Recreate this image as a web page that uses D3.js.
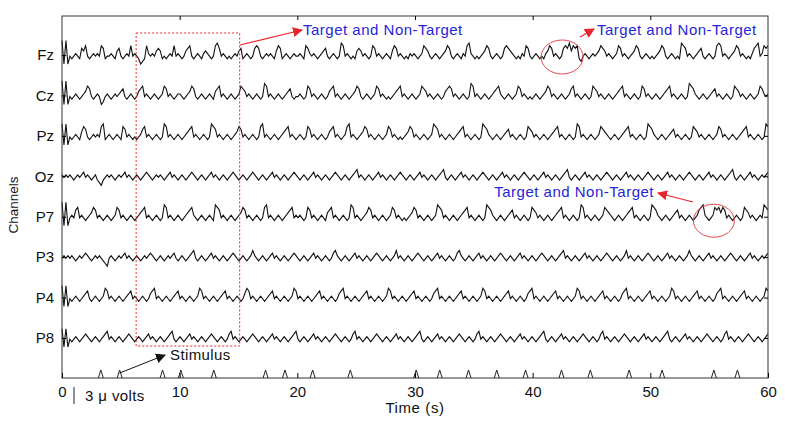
<!DOCTYPE html>
<html>
<head>
<meta charset="utf-8">
<script src="https://cdn.jsdelivr.net/npm/d3@7/dist/d3.min.js"></script>
<style>
	body { margin: 0; background: #fff; }
	text { font-family: "Liberation Sans", Arial, sans-serif; }
</style>
</head>
<body>
<div id="eeg-chart"></div>
<script>
// channel names, top to bottom
var channels = ["Fz", "Cz", "Pz", "Oz", "P7", "P3", "P4", "P8"];

// traces, one digit per 1/6 s (0 = lowest, 9 = highest)
var fz = ["909032343265732343437623343256323437343201274343565232343734",
	"323567323432454323786343232343562343236763234343257623432343",
	"343276434323456323432387343232565343237634323432576343232434",
	"323476532343234576323432437843232345763234323676543232437632",
	"343232457634323676857672134323434576534323476343234576323432",
	"323457632343232876343234563234323787343234576343232467834767"].join("");
var cz = ["909032343234576323430134323434563234323567343234323476343234",
	"432345763234323432567343234323476534323432387343234323456323",
	"343237634323432356734323432345763234323476343232345673432343",
	"234765343234323567634323432387343234323456743234323476343232",
	"343234576343234323467343234323765343234323456734323432376343",
	"234323456734323432387643234323456343234323765343234323476434"].join("");
var pz = ["808032343257632343437823432343276343232346734323432387343234",
	"323456734323432387634323432345763432343237834323432345673432",
	"343237634323432356734323478343234576343234323476343232345763",
	"432343234876343234323456734323432387643234323456343234323765",
	"343234323456734323432387343234323476543234323456734323432387",
	"643234323456343234323765343234323476343234323456734323432387"].join("");
var oz = ["434343234345343234210234343234345343234323454323434323453432",
	"343234543234323453432343234543234323454323432345343234323454",
	"323432345343234323454323432345634323432345343234323454323432",
	"345343234323456323432345343234323454323432345343234323454323",
	"432345343234323456323432345343234323454323432345343234323454",
	"323432345343234323454323432345343234323456323432345343234345"].join("");
var p7 = ["909034367343234576343234323476343234323456734323432387343234",
	"323456743234323432876343234323457634323432378343234323456734",
	"343237634323432567343234323873432345763432343234763432323457",
	"634323432348763432343234567343234323876432343234563432343237",
	"653432343234567343234323873432343234765432343234567343234323",
	"876432343234563432343234678432347675763432343237653432343876"].join("");
var p3 = ["343434323434543234343210343234345343234323434543234323434532",
	"343234563234323453432343234543234323464323432345343234323454",
	"323432345343234323564323432345343234323454323432346343234323",
	"454323432345343234323564323432345343234323454323432345343234",
	"323454323432345634323432345343234323454323432346343234323454",
	"323432345343234323464323432345343234323454323432345343234345"].join("");
var p4 = ["808032343234563234323476343234323456343234323567343234323456",
	"343234323476343234323456343234323576343234323456343234323476",
	"343234323456343234323567343234323456343234323476343234323456",
	"343234323567343234323456343234323476343234323456343234323567",
	"343234323456343234323476343234323456343234323567343234323456",
	"343234323476343234323456343234323567343234323456343234323476"].join("");
var p8 = ["707032343234543234323456343234323454323432345343234323456323",
	"432345343234323454323432356343234323454323432345343234323456",
	"323432345343234323454323432356343234323454323432345343234323",
	"456323432345343234323454323432356343234323454323432345343234",
	"323456323432345343234323454323432356343234323454323432345343",
	"234323456323432345343234323454323432356343234323454323432345"].join("");
var traces = [fz, cz, pz, oz, p7, p3, p4, p8];

// stimulus onsets (s)
var stimulus = [3.3, 4.9, 8.55, 10.1, 12.9, 17.3, 18.95, 21.3, 24.5, 30.1, 32.1,
	34.55, 36.95, 39.4, 42.45, 44.9, 48.2, 51.0, 55.4, 57.4];

var timeTicks = [0, 10, 20, 30, 40, 50, 60];
var annotationText = "Target and Non-Target";

// set margins and draw canvas
var margin = {left: 62, right: 17, top: 16, bottom: 47};
var width = 785 - margin.left - margin.right,
	height = 425 - margin.top - margin.bottom;

var svg = d3.select("#eeg-chart").append("svg")
		.attr("width", width + margin.left + margin.right)
		.attr("height", height + margin.top + margin.bottom);

var canvas = svg.append("g")
		.attr("transform", "translate(" + margin.left + ", " + margin.top + ")");

// scales
var x = d3.scaleLinear().domain([0, 60]).range([0, width]);
var y = d3.scalePoint().domain(channels).range([39, 322]);
var volt = d3.scaleLinear().domain([0, 9]).range([9, -14.5]);

// traces
traces.forEach(function(str, c) {
	var vals = str.split("").map(Number);
	var n = vals.length;
	var line = d3.line()
		.x(function(d, i) { return x(i * 60 / (n - 1)); })
		.y(function(d) { return y(channels[c]) + volt(d); });
	canvas.append("path")
		.datum(vals)
		.attr("d", line)
		.attr("fill", "none")
		.attr("stroke", "#111")
		.attr("stroke-width", 1.1);
});

// frame
canvas.append("rect")
	.attr("width", width)
	.attr("height", height)
	.attr("fill", "none")
	.attr("stroke", "#333")
	.attr("stroke-width", 1);

// axes
var xAxis = canvas.append("g")
	.attr("transform", "translate(0," + height + ")")
	.call(d3.axisBottom(x).tickValues(timeTicks).tickSizeInner(-5).tickSizeOuter(0).tickPadding(8));
xAxis.select(".domain").remove();
xAxis.selectAll("text").attr("font-size", "15px").attr("fill", "#111")
	.attr("font-family", "Liberation Sans, Arial, sans-serif");

var topAxis = canvas.append("g")
	.call(d3.axisTop(x).tickValues([10, 20, 30, 40, 50]).tickSize(-4).tickFormat(""));
topAxis.select(".domain").remove();

var yAxis = canvas.append("g")
	.call(d3.axisLeft(y).tickSizeInner(-4).tickSizeOuter(0).tickPadding(8));
yAxis.select(".domain").remove();
yAxis.selectAll("text").attr("font-size", "15px").attr("fill", "#111")
	.attr("font-family", "Liberation Sans, Arial, sans-serif");

var rAxis = canvas.append("g")
	.attr("transform", "translate(" + width + ",0)")
	.call(d3.axisRight(y).tickSize(-4).tickFormat(""));
rAxis.select(".domain").remove();

// stimulus markers
canvas.selectAll(".stim")
	.data(stimulus)
	.enter().append("path")
	.attr("class", "stim")
	.attr("d", function(d) {
		return "M" + (x(d) - 2.5) + "," + height + "L" + x(d) + "," + (height - 8) + "L" + (x(d) + 2.5) + "," + height;
	})
	.attr("fill", "none")
	.attr("stroke", "#222")
	.attr("stroke-width", 1);

// labels
canvas.append("text")
	.attr("x", x(30))
	.attr("y", height + 35)
	.attr("font-size", "15px")
	.attr("letter-spacing", "0.6px")
	.attr("text-anchor", "middle")
	.attr("fill", "#111")
	.text("Time (s)");

canvas.append("text")
	.attr("x", -205 + margin.top)
	.attr("y", -44)
	.attr("font-size", "13.5px")
	.attr("text-anchor", "middle")
	.attr("transform", "rotate(-90)")
	.attr("fill", "#111")
	.text("Channels");

// scale bar
canvas.append("line")
	.attr("x1", 12).attr("x2", 12)
	.attr("y1", height + 9).attr("y2", height + 26)
	.attr("stroke", "#222");
canvas.append("text")
	.attr("x", 23)
	.attr("y", height + 23)
	.attr("font-size", "15px")
	.attr("letter-spacing", "0.4px")
	.attr("fill", "#111")
	.text("3 \u03bc volts");

// arrow heads
var defs = svg.append("defs");
[["redHead", "#e8242c"], ["blackHead", "#111"]].forEach(function(m) {
	defs.append("marker")
		.attr("id", m[0])
		.attr("viewBox", "0 0 10 10")
		.attr("refX", 9).attr("refY", 5)
		.attr("markerWidth", 10).attr("markerHeight", 10)
		.attr("markerUnits", "userSpaceOnUse")
		.attr("orient", "auto")
	.append("path")
		.attr("d", "M0,0L10,5L0,10z")
		.attr("fill", m[1]);
});

// dotted box over 6.3 - 15.1 s
canvas.append("rect")
	.attr("x", x(6.3))
	.attr("y", 17)
	.attr("width", x(15.1) - x(6.3))
	.attr("height", 313)
	.attr("fill", "none")
	.attr("stroke", "#e8242c")
	.attr("stroke-width", 1)
	.attr("stroke-dasharray", "2,2");

// circled events
var circles = [[42.5, "Fz", -2, 21, 17], [55.4, "P7", -4, 20.5, 16.5]];
circles.forEach(function(d) {
	canvas.append("ellipse")
		.attr("cx", x(d[0]))
		.attr("cy", y(d[1]) - d[2])
		.attr("rx", d[3])
		.attr("ry", d[4])
		.attr("fill", "none")
		.attr("stroke", "#e8484e")
		.attr("stroke-width", 1);
});

// red arrows and labels
var arrows = [
	{x1: 178, y1: 29, x2: 240, y2: 14, tx: 241, ty: 19, anchor: "start"},
	{x1: 518, y1: 21, x2: 532, y2: 13, tx: 535, ty: 19, anchor: "start"},
	{x1: 631, y1: 186, x2: 596, y2: 177, tx: 592, ty: 181, anchor: "end"}
];
arrows.forEach(function(a) {
	canvas.append("line")
		.attr("x1", a.x1).attr("y1", a.y1)
		.attr("x2", a.x2).attr("y2", a.y2)
		.attr("stroke", "#e8242c")
		.attr("stroke-width", 1.2)
		.attr("marker-end", "url(#redHead)");
	canvas.append("text")
		.attr("x", a.tx)
		.attr("y", a.ty)
		.attr("text-anchor", a.anchor)
		.attr("font-size", "15px")
		.attr("letter-spacing", "0.5px")
		.attr("fill", "#2626d8")
		.text(annotationText);
});

// stimulus arrow
canvas.append("line")
	.attr("x1", x(4.9)).attr("y1", height - 5)
	.attr("x2", 103).attr("y2", height - 23)
	.attr("stroke", "#111")
	.attr("stroke-width", 1)
	.attr("marker-end", "url(#blackHead)");
canvas.append("text")
	.attr("x", 108)
	.attr("y", height - 18)
	.attr("font-size", "15px")
	.attr("letter-spacing", "0.4px")
	.attr("fill", "#111")
	.text("Stimulus");
</script>
</body>
</html>
